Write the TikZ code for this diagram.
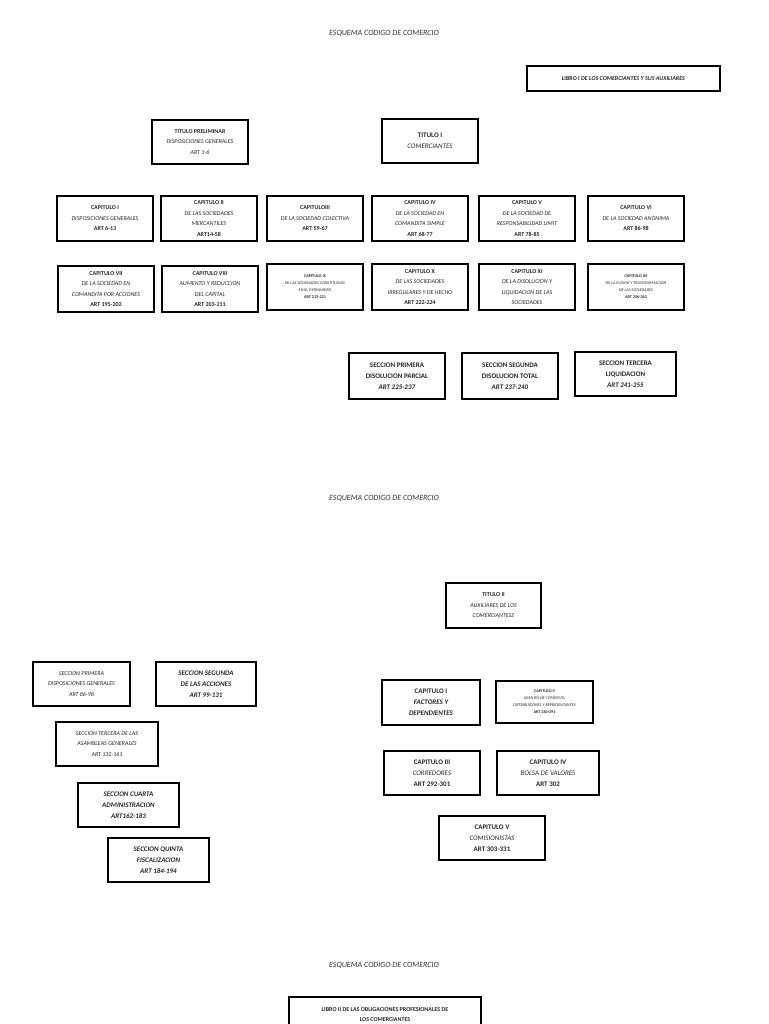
\documentclass[tikz,border=0pt]{standalone}
\usepackage{fontspec}
\setmainfont{Carlito}
\newcommand{\bx}[7]{\node[bx,font=#2,minimum width={#5-#3},minimum height={#6-#4}] (#1) at ({(#3+#5)/2},{(#4+#6)/2}) {#7};}
\newcommand{\szN}{\fontsize{6}{10.5}\selectfont}
\newcommand{\szM}{\fontsize{7}{11}\selectfont}
\newcommand{\szT}{\fontsize{4.2}{7}\selectfont}
\begin{document}
\begin{tikzpicture}[x=1pt,y=-1pt,
  bx/.style={draw,line width=2.6pt,align=center,inner sep=1pt,text=black!85},
  ttl/.style={font=\fontsize{8}{10}\selectfont\itshape,text=black!80}]
\useasboundingbox (0,0) rectangle (768,1024);
\fill[white] (0,0) rectangle (768,1024);
\node[ttl] (t1) at (384,33) {ESQUEMA CODIGO DE COMERCIO};
\node[ttl] (t2) at (384,498) {ESQUEMA CODIGO DE COMERCIO};
\node[ttl] (t3) at (384,965) {ESQUEMA CODIGO DE COMERCIO};
\bx{l1}{\szN\bfseries}{527}{66}{720}{91}{LIBRO I \textit{DE LOS COMERCIANTES Y SUS AUXILIARES}}
\bx{tp}{\szN\itshape}{152}{120}{248}{164}{\textbf{\upshape TITULO PRELIMINAR}\\DISPOSICIONES GENERALES\\ART 1-6}
\bx{t1b}{\szM\itshape}{382}{119}{478}{163}{\textbf{\upshape TITULO I}\\COMERCIANTES}
\bx{c1}{\szN\itshape}{57}{196}{153}{241}{\textbf{\upshape CAPITULO I}\\DISPOSICIONES GENERALES\\\textbf{\upshape ART 6-13}}
\bx{c2}{\szN\itshape}{161}{196}{257}{241}{\textbf{\upshape CAPITULO II}\\DE LAS SOCIEDADES\\MERCANTILES\\\textbf{\upshape ART14-58}}
\bx{c3}{\szN\itshape}{267}{196}{363}{241}{\textbf{\upshape CAPITULOIII}\\DE LA SOCIEDAD COLECTIVA\\\textbf{\upshape ART 59-67}}
\bx{c4}{\szN\itshape}{372}{196}{468}{241}{\textbf{\upshape CAPITULO IV}\\DE LA SOCIEDAD EN\\COMANDITA SIMPLE\\\textbf{\upshape ART 68-77}}
\bx{c5}{\szN\itshape}{479}{196}{575}{241}{\textbf{\upshape CAPITULO V}\\DE LA SOCIEDAD DE\\RESPONSABILIDAD LIMIT\\\textbf{\upshape ART 78-85}}
\bx{c6}{\szN\itshape}{588}{196}{684}{241}{\textbf{\upshape CAPITULO VI}\\DE LA SOCIEDAD ANONIMA\\\textbf{\upshape ART 86-98}}
\bx{c7}{\szN\itshape}{58}{266}{154}{312}{\textbf{\upshape CAPITULO VII}\\DE LA SOCIEDAD EN\\COMANDITA POR ACCIONES\\\textbf{\upshape ART  195-202}}
\bx{c8}{\szN\itshape}{162}{266}{258}{312}{\textbf{\upshape CAPITULO VIII}\\AUMENTO Y REDUCCION\\DEL CAPITAL\\\textbf{\upshape ART 203-211}}
\bx{c9}{\szT\itshape}{267}{264}{363}{310}{\textbf{\upshape CAPITULO IX}\\DE LAS SOCIEDADES CONSTITUIDAS\\EN EL EXTRANJERO\\\textbf{\upshape ART  213-221}}
\bx{c10}{\szN\itshape}{372}{264}{468}{310}{\textbf{\upshape CAPITULO X}\\DE LAS SOCIEDADES\\IRREGULARES Y DE HECHO\\\textbf{\upshape ART  222-224}}
\bx{c11}{\szN\itshape}{479}{264}{575}{310}{\textbf{\upshape CAPITULO XI}\\DE LA DISOLUCION Y\\LIQUIDACION DE LAS\\SOCIEDADES}
\bx{c12}{\szT\itshape}{588}{264}{684}{310}{\textbf{\upshape CAPITULO XII}\\DE LA FUSION Y TRANSFORMACION\\DE LAS SOCIEDADES\\\textbf{\upshape ART  256-262}}
\bx{s1}{\szM\bfseries}{349}{353}{445}{399}{SECCION PRIMERA\\DISOLUCION PARCIAL\\\textit{ART 225-237}}
\bx{s2}{\szM\bfseries}{462}{353}{558}{399}{SECCION SEGUNDA\\DISOLUCION TOTAL\\\textit{ART 237-240}}
\bx{s3}{\szM\bfseries}{575}{352}{676}{396}{SECCION TERCERA\\LIQUIDACION\\\textit{ART  241-255}}
\bx{t2b}{\szN\itshape}{446}{583}{541}{628}{\textbf{\upshape TITULO II}\\AUXILIARES DE LOS\\COMERCIANTESZ}
\bx{a1}{\szN\itshape}{33}{662}{130}{706}{SECCION PRIMERA\\DISPOSICIONES GENERALES\\ART 86-98}
\bx{a2}{\szM\bfseries\itshape}{156}{662}{256}{706}{SECCION SEGUNDA\\DE LAS ACCIONES\\ART 99-131}
\bx{a3}{\szN\itshape}{56}{722}{158}{766}{SECCION TERCERA DE LAS\\ASAMBLEAS GENERALES\\ART  132-161}
\bx{a4}{\szM\bfseries\itshape}{78}{783}{179}{827}{SECCION CUARTA\\ADMINISTRACION\\ART162-183}
\bx{a5}{\szM\bfseries\itshape}{108}{838}{209}{882}{SECCION QUINTA\\FISCALIZACION\\ART 184-194}
\bx{d1}{\szM\bfseries\itshape}{382}{680}{480}{725}{\upshape CAPITULO I\\FACTORES Y\\DEPENDIENTES}
\bx{d2}{\szT\itshape}{496}{681}{593}{723}{\textbf{\upshape CAPITULO II}\\AGENTES DE COMERCIO,\\DISTRIBUIDORES Y REPRESENTANTES\\\textbf{\upshape ART 260-291}}
\bx{d3}{\szM\itshape}{384}{751}{480}{795}{\textbf{\upshape CAPITULO III}\\CORREDORES\\\textbf{\upshape ART 292-301}}
\bx{d4}{\szM\itshape}{497}{751}{599}{795}{\textbf{\upshape CAPITULO IV}\\BOLSA DE VALORES\\\textbf{\upshape ART 302}}
\bx{d5}{\szM\itshape}{439}{816}{545}{860}{\textbf{\upshape CAPITULO V}\\COMISIONISTAS\\\textbf{\upshape ART 303-331}}
\bx{l2}{\szN\bfseries}{289}{997}{481}{1032}{LIBRO II  DE LAS OBLIGACIONES PROFESIONALES DE\\LOS COMERCIANTES}
\end{tikzpicture}
\end{document}
